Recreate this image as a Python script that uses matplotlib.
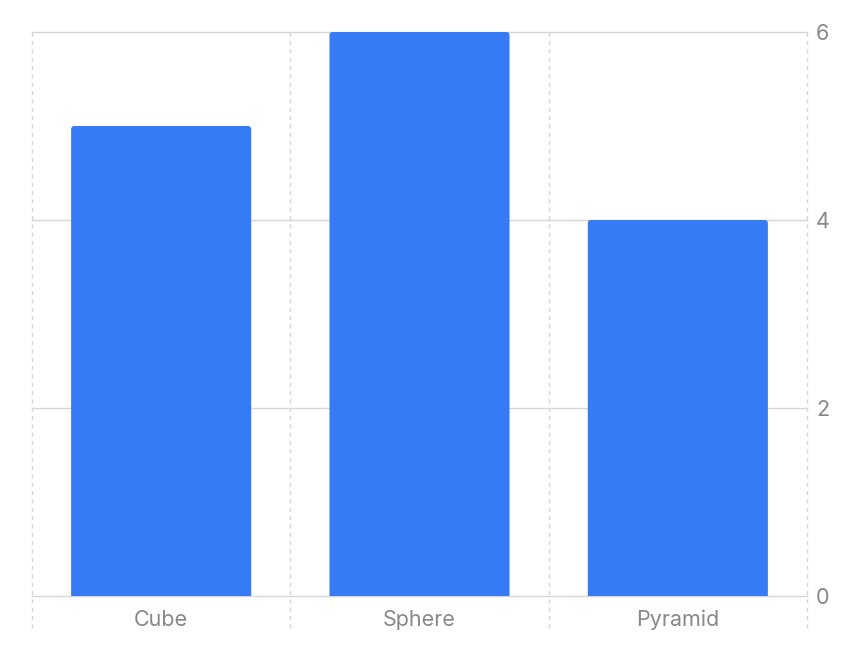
import numpy as np
from matplotlib import pyplot as plt
from matplotlib.path import Path
from matplotlib.patches import PathPatch

# chart data
shapes = ["Cube", "Sphere", "Pyramid"]
counts = [5, 6, 4]
y_ticks = [0, 2, 4, 6]

blue = "#367af5"
grid_col = "#d6d6d6"
text_col = "#888888"

plt.rcParams['font.family'] = ['Inter', 'DejaVu Sans']

fig = plt.figure(figsize=(8.64, 6.64), dpi=100)
W, H = 864, 664
left, right, top, bottom = 32, 807, 32, 596
ax = fig.add_axes([left / W, (H - bottom) / H, (right - left) / W, (bottom - top) / H])

ax.set_xlim(-0.5, len(shapes) - 0.5)
ax.set_ylim(0, 6)

# corner radius of 3 px, in data units for each direction
x_px = (right - left) / len(shapes)
y_px = (bottom - top) / 6
rx, ry = 3 / x_px, 3 / y_px
bar_w = 0.697


def top_rounded_bar(xc, h):
    x0, x1 = xc - bar_w / 2, xc + bar_w / 2
    a = np.linspace(0, np.pi / 2, 8)
    pts = [(x0, 0), (x1, 0)]
    # right top corner
    pts += [(x1 - rx + rx * np.cos(t), h - ry + ry * np.sin(t)) for t in a]
    # left top corner
    pts += [(x0 + rx - rx * np.cos(t), h - ry + ry * np.sin(t)) for t in a[::-1]]
    pts.append((x0, 0))
    return Path(pts, closed=True)


for i, v in enumerate(counts):
    ax.add_patch(PathPatch(top_rounded_bar(i, v), fc=blue, ec="none", zorder=2))

# horizontal grid
for t in y_ticks:
    ax.axhline(t, color=grid_col, lw=1, zorder=1, clip_on=False)

# vertical dashed separators, run below the axis
ext = -32 / (bottom - top)
for xb in [-0.5 + k for k in range(len(shapes) + 1)]:
    ax.axvline(xb, ymin=ext, ymax=1, color=grid_col, lw=1, ls=(0, (3, 3)),
               clip_on=False, zorder=1)

for s in ax.spines.values():
    s.set_visible(False)

ax.set_xticks(range(len(shapes)))
ax.set_xticklabels(shapes)
ax.yaxis.tick_right()
ax.set_yticks(y_ticks)
ax.set_yticklabels([str(t) for t in y_ticks])
ax.tick_params(axis="x", length=0, pad=10, labelsize=15.5, labelcolor=text_col)
ax.tick_params(axis="y", length=0, pad=6.5, labelsize=15.5, labelcolor=text_col)

fig.savefig("out.png", dpi=100)
